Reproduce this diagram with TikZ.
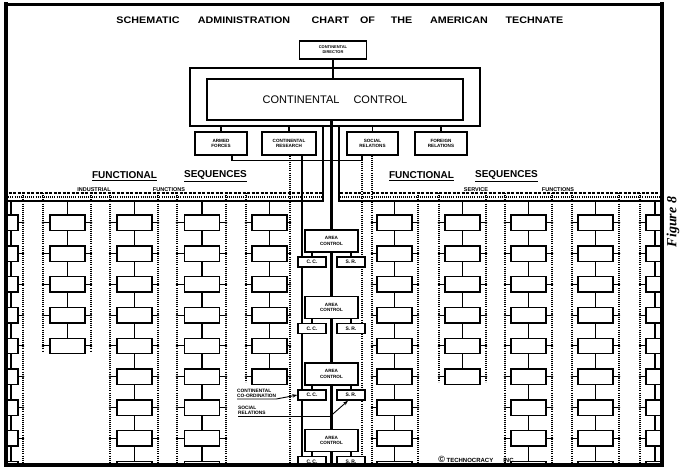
\documentclass[tikz,border=0pt]{standalone}
\usepackage{fontspec}
\setmainfont{Liberation Sans}
\newfontfamily\figfont{Liberation Serif}
\usetikzlibrary{arrows.meta}
% #1 name, #2 centre x, #3 width, #4 rows, #5 left dotted x, #6 right dotted x,
% #7 dotted end y, #8 left mode, #9 right mode (0 none, 1 ticks, 2 ticks+line)
\newcommand\fcolumn[9]{%
  \pgfmathtruncatemacro\fclast{#4-1}%
  \foreach \k in {0,...,\fclast}{%
    \node[fbox, minimum width=#3pt] (#1-\k) at (#2,{222.75+30.8*\k}) {};
  }%
  \coordinate (#1-top) at (#2,201);
  \draw[conn] (#1-top) -- (#1-0.north);
  \foreach \k in {1,...,\fclast}{%
    \pgfmathtruncatemacro\fcprev{\k-1}%
    \draw[conn] (#1-\fcprev.south) -- (#1-\k.north);
  }%
  \ifnum#8>1 \draw[dotline] (#5,193) -- (#5,#7);\fi
  \ifnum#9>1 \draw[dotline] (#6,193) -- (#6,#7);\fi
  \ifnum#8>0 \foreach \k in {0,...,\fclast}{\draw[tick] (#1-\k.west) -- (#1-\k.west -| #5,0); \fill (#1-\k.west -| #5,0) circle (1.3);}\fi
  \ifnum#9>0 \foreach \k in {0,...,\fclast}{\draw[tick] (#1-\k.east) -- (#1-\k.east -| #6,0); \fill (#1-\k.east -| #6,0) circle (1.3);}\fi
}
\newcommand\tw[1]{\scalebox{1.13}[1]{#1}}
\begin{document}
\begin{tikzpicture}[x=1pt,y=-1pt,
  fbox/.style={draw,line width=1.4pt,minimum height=15.5pt,inner sep=0pt,fill=white},
  hbox/.style={draw,line width=1.4pt,inner sep=0pt,fill=white,align=center,font=\fontsize{4.6}{5.4}\selectfont\bfseries},
  conn/.style={line width=1.1pt},
  thickline/.style={line width=2.8pt},
  dotline/.style={line width=1.1pt,dash pattern=on 1pt off 1.1pt},
  dashline/.style={line width=1.1pt,dash pattern=on 3pt off 1.5pt},
  tick/.style={line width=1pt},
  ttlw/.style={font=\fontsize{9.5}{10}\selectfont\bfseries,inner sep=0pt},
  fhead/.style={font=\fontsize{10}{11}\selectfont\bfseries,inner sep=0pt},
  fsub/.style={font=\fontsize{5.5}{6}\selectfont\bfseries,inner sep=0pt},
  lblw/.style={font=\fontsize{4.8}{5.6}\selectfont\bfseries,inner sep=0pt,align=left},
  arr/.style={line width=0.9pt,-{Stealth[length=5pt,width=3.5pt]}}
]
\useasboundingbox (0,0) rectangle (685,472);
\begin{scope}
\clip (6,4) rectangle (662,465);
% title
\node[ttlw] (t1) at (148,20) {\tw{SCHEMATIC}};
\node[ttlw] (t2) at (244,20) {\tw{ADMINISTRATION}};
\node[ttlw] (t3) at (330.5,20) {\tw{CHART}};
\node[ttlw] (t4) at (367.5,20) {\tw{OF}};
\node[ttlw] (t5) at (401.5,20) {\tw{THE}};
\node[ttlw] (t6) at (459,20) {\tw{AMERICAN}};
\node[ttlw] (t7) at (534.5,20) {\tw{TECHNATE}};
% top hierarchy
\node[hbox, minimum width=67pt, minimum height=18pt, font=\fontsize{4}{4.8}\selectfont\bfseries] (dir) at (333,50) {CONTINENTAL\\DIRECTOR};
\node[draw, line width=1.4pt, minimum width=290pt, minimum height=58pt, inner sep=0pt] (outer) at (335,97) {};
\node[draw, line width=1.6pt, minimum width=256pt, minimum height=41pt, inner sep=0pt, font=\fontsize{11}{12}\selectfont] (inner) at (335,99.5) {CONTINENTAL\hspace{14pt}CONTROL};
\node[hbox, minimum width=52pt, minimum height=23pt] (af) at (221,143.5) {ARMED\\FORCES};
\node[hbox, minimum width=54pt, minimum height=23pt] (cr) at (289,143.5) {CONTINENTAL\\RESEARCH};
\node[hbox, minimum width=51pt, minimum height=23pt] (socrel) at (372.5,143.5) {SOCIAL\\RELATIONS};
\node[hbox, minimum width=52pt, minimum height=23pt] (fr) at (441,143.5) {FOREIGN\\RELATIONS};
\draw[conn] (dir.south) -- (dir.south |- inner.north);
\foreach \b in {af,cr,socrel,fr} \draw[conn] (\b.north) -- (\b.north |- outer.south);
\draw[conn] ([xshift=11pt]af.south) -- ++(0,5) -| ([xshift=-10.5pt]socrel.south);
% headings
\node[fhead] (fs1) at (124.5,176) {\underline{FUNCTIONAL}};
\node[fhead] (fs2) at (215.5,176) {\underline{SEQUENCES}};
\node[fhead] (fs3) at (421.5,176) {\underline{FUNCTIONAL}};
\node[fhead] (fs4) at (506.5,176) {\underline{SEQUENCES}};
\node[fsub] (s1) at (94,189.5) {INDUSTRIAL};
\node[fsub] (s2) at (169,189.5) {FUNCTIONS};
\node[fsub] (s3) at (476,189.5) {SERVICE};
\node[fsub] (s4) at (558,189.5) {FUNCTIONS};
% bus
\coordinate (busL) at (323,201);
\coordinate (busR) at (339,201);
\draw[dashline] (4,193) -- (322,193);
\draw[dotline] (4,197) -- (322,197);
\draw[conn] (4,201) -- (busL) -- (busL |- outer.south);
\draw[dashline] (340,193) -- (664,193);
\draw[dotline] (340,197) -- (664,197);
\draw[conn] (664,201) -- (busR) -- (busR |- outer.south);
% long centre lines
\coordinate (bot) at (0,467);
\draw[dotline] ([xshift=1pt]cr.south) -- ([xshift=1pt]cr.south |- bot);
\draw[conn] ([xshift=13pt]cr.south) -- ([xshift=13pt]cr.south |- bot);
\draw[dotline] ([xshift=-10.5pt]socrel.south) -- ([xshift=-10.5pt]socrel.south |- bot);
\draw[dotline] ([xshift=-0.5pt]socrel.south) -- ([xshift=-0.5pt]socrel.south |- bot);
% functional columns
\fcolumn{cZ}{11}{14}{9}{0}{23}{467}{0}{2}
\fcolumn{cA}{67.5}{35}{5}{43}{91}{351}{2}{2}
\fcolumn{cB}{134.5}{35}{9}{110}{158}{467}{2}{2}
\fcolumn{cC}{202}{35}{9}{177}{226}{467}{2}{2}
\fcolumn{cD}{269.5}{35}{6}{246}{290}{382}{2}{1}
\fcolumn{cE}{394.5}{35}{9}{372}{418}{467}{1}{2}
\fcolumn{cF}{462.5}{35}{6}{439}{486}{382}{2}{2}
\fcolumn{cG}{528.5}{35}{9}{505}{552}{467}{2}{2}
\fcolumn{cH}{595.5}{35}{9}{572}{619}{467}{2}{2}
\fcolumn{cI}{655}{18}{9}{640}{0}{467}{2}{0}
% area controls
\foreach \k in {1,...,4}{
  \pgfmathsetmacro\yt{230+66.5*(\k-1)}
  \node[hbox, minimum width=53pt, minimum height=22pt] (ac\k) at (331.5,{\yt+11}) {AREA\\CONTROL};
  \node[hbox, minimum width=28pt, minimum height=10pt, font=\fontsize{5}{6}\selectfont\bfseries] (cc\k) at (312,{\yt+32}) {C.\,C.};
  \node[hbox, minimum width=28pt, minimum height=10pt, font=\fontsize{5}{6}\selectfont\bfseries] (sr\k) at (351,{\yt+32}) {S.\,R.};
}
\draw[thickline] (ac1.north |- inner.south) -- (ac1.north);
\foreach \k [count=\j from 2] in {1,2,3} \draw[thickline] (ac\k.south) -- (ac\j.north);
\draw[thickline] (ac4.south) -- (ac4.south |- bot);
\foreach \k in {1,...,4}{
  \draw[conn] (ac\k.south -| cc\k.north) -- (cc\k.north);
  \draw[conn] (ac\k.south -| sr\k.north) -- (sr\k.north);
}
% labels
\node[lblw, anchor=south west] (ccl) at (237,398) {CONTINENTAL\\CO-ORDINATION};
\draw[arr] ([yshift=-1pt]ccl.south west) -- ([yshift=-1pt]ccl.south east) -- (cc3.west);
\node[lblw, anchor=south west] (srl) at (238,415) {SOCIAL\\RELATIONS};
\coordinate (srstart) at ([yshift=-1.5pt]srl.south west);
\coordinate (srbend) at (330,0);
\draw[arr] (srstart) -- (srstart -| srbend) -- ([xshift=-3pt]sr3.south);
\node[font=\fontsize{6}{7}\selectfont\bfseries, inner sep=0pt] (copy) at (476,459) {\fontsize{9}{9}\selectfont ©\fontsize{6}{7}\selectfont\ TECHNOCRACY\hspace{10pt}INC};
\end{scope}
% frame
\draw[line width=3.5pt] (6,2) -- (6,467);
\draw[line width=3pt] (4,4) -- (664,4);
\draw[line width=3.5pt] (662,2) -- (662,467);
\draw[line width=4.5pt] (4,465) -- (664,465);
\node[rotate=90, inner sep=0pt, font=\figfont\bfseries\itshape\fontsize{14}{14}\selectfont] (fig) at (673,222) {Figure 8};
\end{tikzpicture}
\end{document}
